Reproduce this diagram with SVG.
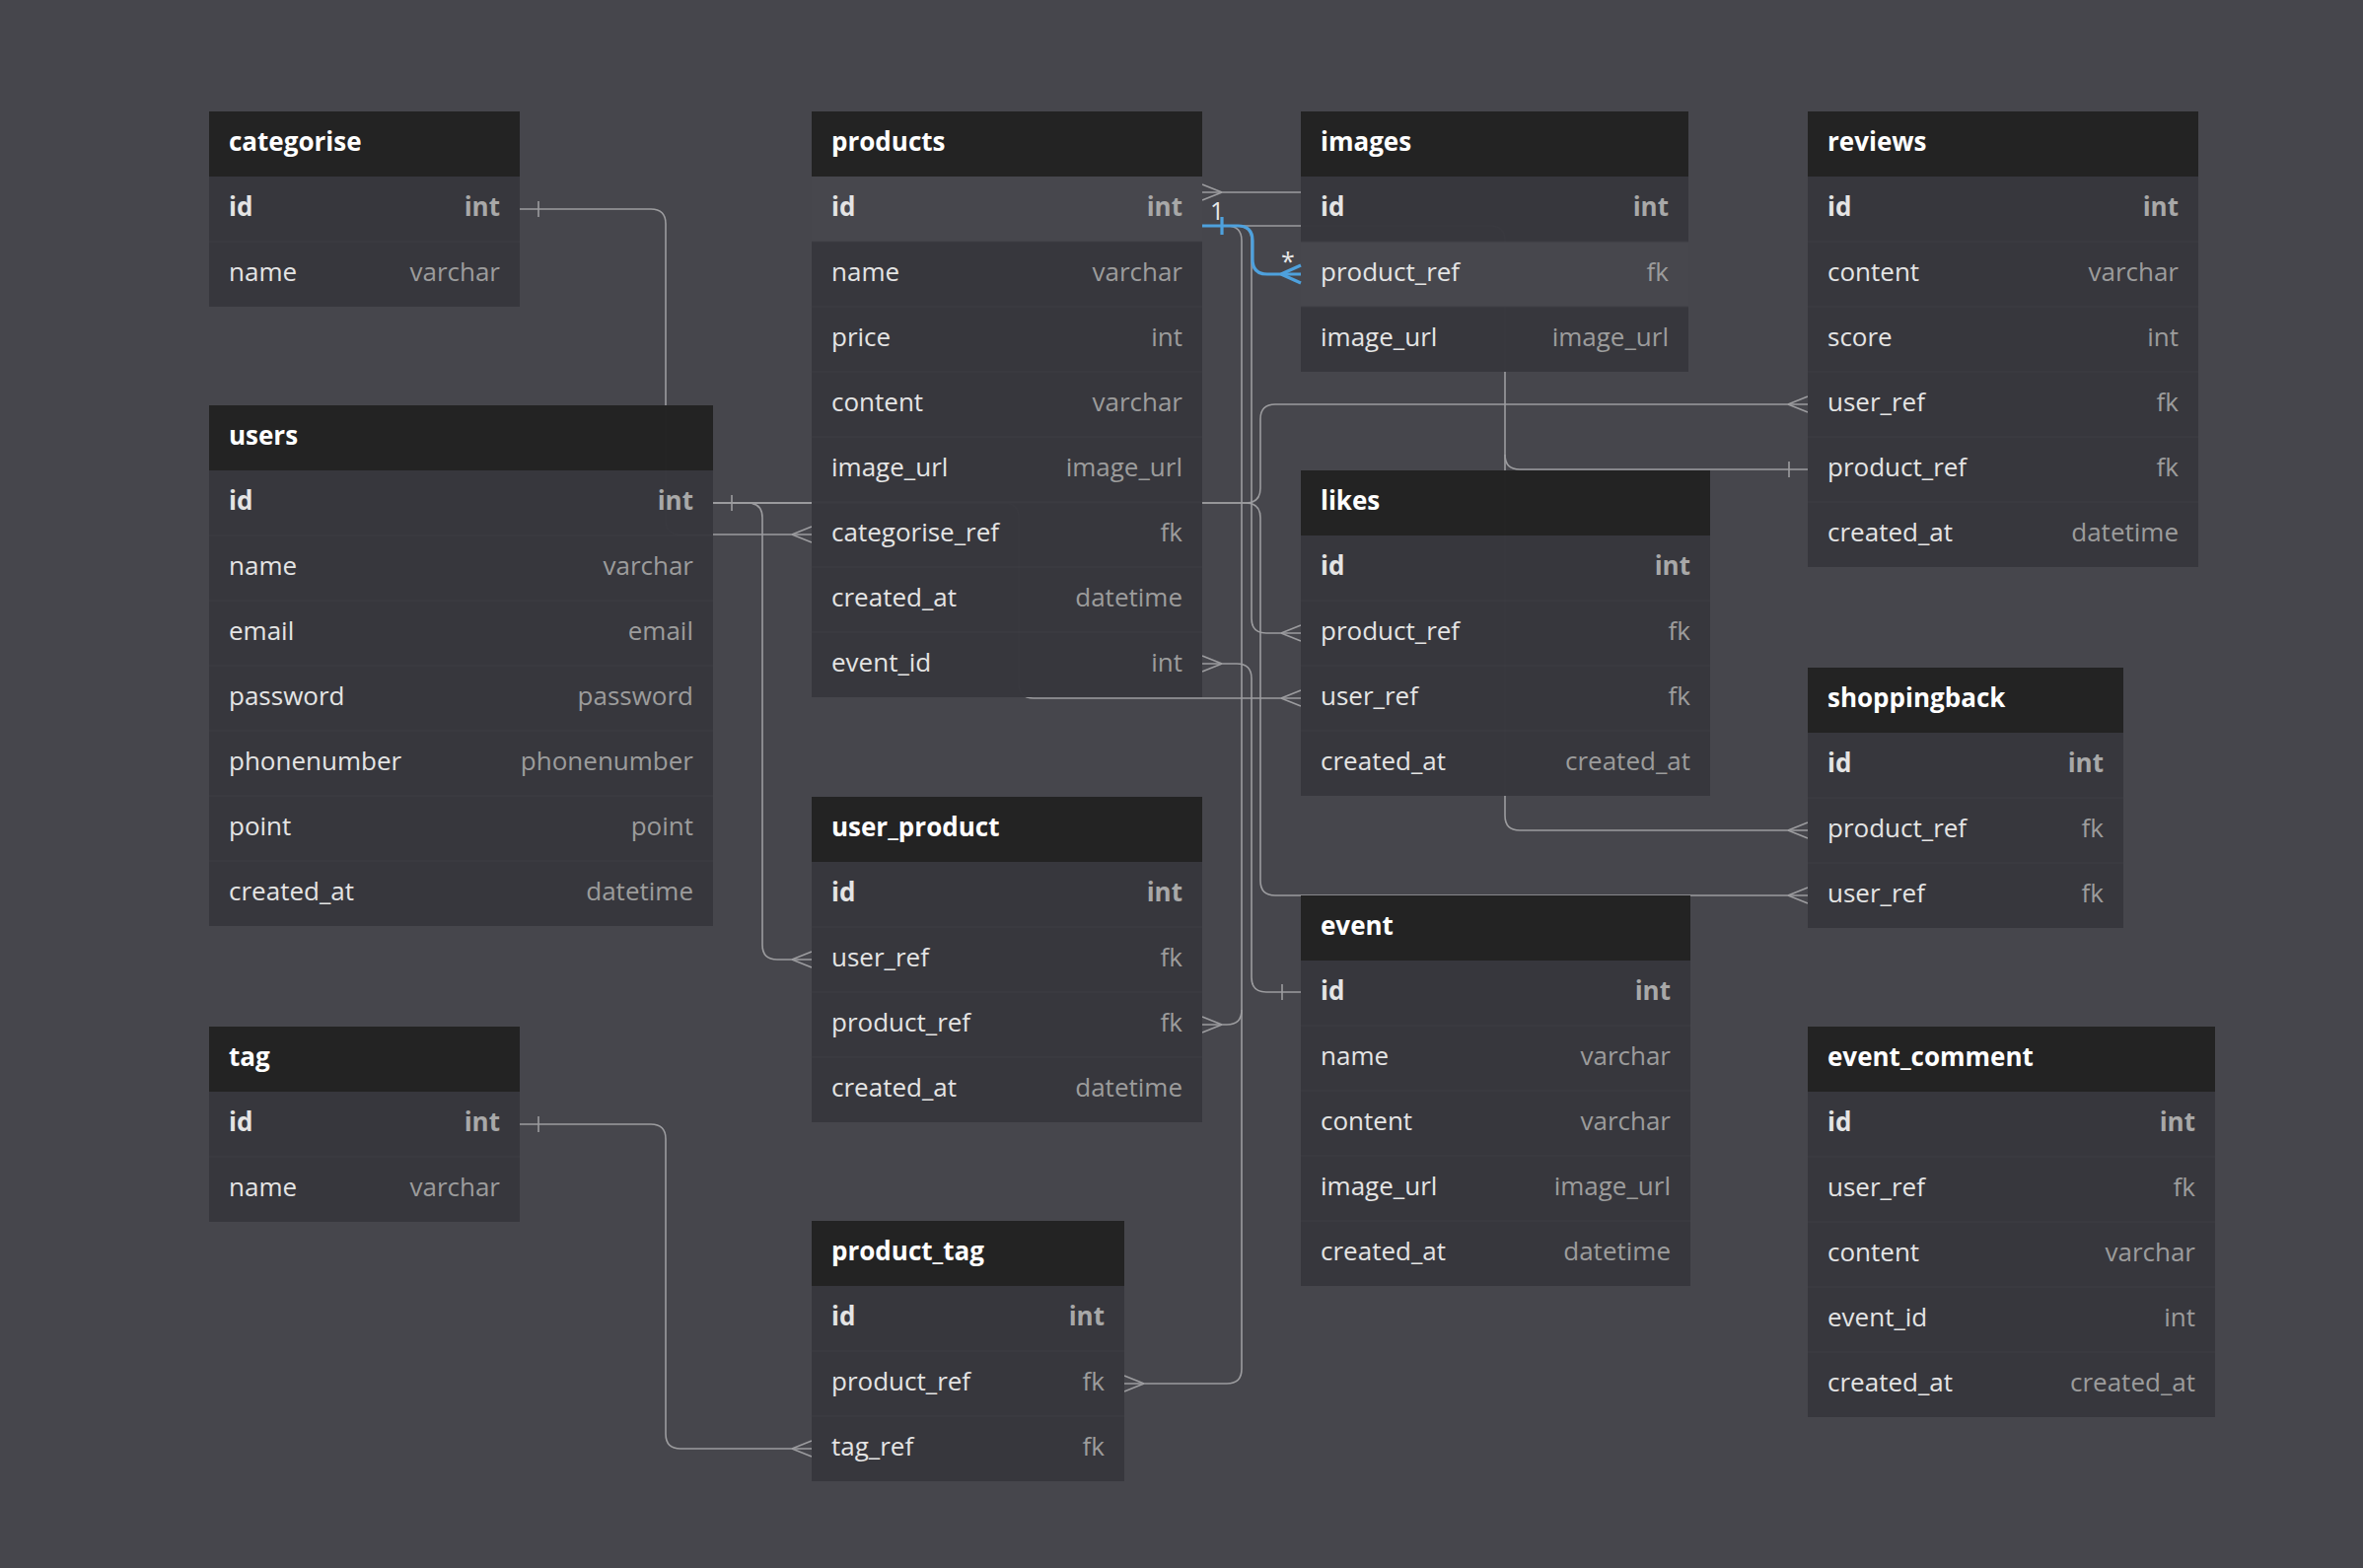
<svg xmlns="http://www.w3.org/2000/svg" width="2396" height="1590" viewBox="0 0 2396 1590">
<defs>
<style>
.bg{fill:#46464c}
.hd{fill:#222222;fill-opacity:.99}
.rw{fill:#37373d;fill-opacity:.985}
.hl{fill:#48484e;fill-opacity:.99}
.sep{stroke:#3f3f45;stroke-width:1}
text{font-family:"Open Sans","Noto Sans",sans-serif;font-size:26px}
.ht{fill:#ffffff;font-weight:700}
.pk{fill:#e4e4e4;font-weight:700}
.pkt{fill:#a8a8a8;font-weight:700;text-anchor:end}
.fn{fill:#e4e4e4}
.ft{fill:#9c9c9c;text-anchor:end}
.c{fill:none;stroke:#9c9c9f;stroke-width:1.6}
.cb{fill:none;stroke:#4ea1dd;stroke-width:3.2}
.lbl{fill:#e8e8e8;font-size:25px}
</style>
<marker id="crow" markerUnits="userSpaceOnUse" viewBox="-22 -10 24 20" refX="0" refY="0" markerWidth="24" markerHeight="20" orient="auto-start-reverse" overflow="visible">
<path d="M-20,0 L0,-8 M-20,0 L0,8" fill="none" stroke="#9c9c9f" stroke-width="1.6"/>
</marker>
<marker id="bar" markerUnits="userSpaceOnUse" viewBox="-22 -10 24 20" refX="0" refY="0" markerWidth="24" markerHeight="20" orient="auto-start-reverse" overflow="visible">
<path d="M-19,-8 V8" fill="none" stroke="#9c9c9f" stroke-width="1.6"/>
</marker>
<marker id="crowB" markerUnits="userSpaceOnUse" viewBox="-22 -10 24 20" refX="0" refY="0" markerWidth="24" markerHeight="20" orient="auto-start-reverse" overflow="visible">
<path d="M-20,0 L0,-9 M-20,0 L0,9" fill="none" stroke="#4ea1dd" stroke-width="3.2"/>
</marker>
<marker id="barB" markerUnits="userSpaceOnUse" viewBox="-22 -10 24 20" refX="0" refY="0" markerWidth="24" markerHeight="20" orient="auto-start-reverse" overflow="visible">
<path d="M-20,-9 V9" fill="none" stroke="#4ea1dd" stroke-width="3.2"/>
</marker>
</defs>
<rect class="bg" x="0" y="0" width="2396" height="1590"/>

<g id="connectors">
<path class="c" d="M527,212 H660 Q675,212 675,227 V527 Q675,542 690,542 H823" marker-start="url(#bar)" marker-end="url(#crow)"/>
<path class="c" d="M723,510 H1018 Q1033,510 1033,525 V693 Q1033,708 1048,708 H1319" marker-start="url(#bar)" marker-end="url(#crow)"/>
<path class="c" d="M723,510 H1263 Q1278,510 1278,495 V425 Q1278,410 1293,410 H1833" marker-end="url(#crow)"/>
<path class="c" d="M723,510 H1263 Q1278,510 1278,525 V893 Q1278,908 1293,908 H1833" marker-end="url(#crow)"/>
<path class="c" d="M723,510 H758 Q773,510 773,525 V958 Q773,973 788,973 H823" marker-end="url(#crow)"/>
<path class="c" d="M1219,229 H1254 Q1269,229 1269,244 V627 Q1269,642 1284,642 H1319" marker-end="url(#crow)"/>
<path class="c" d="M1219,229 H1244 Q1259,229 1259,244 V1388 Q1259,1403 1244,1403 H1140" marker-end="url(#crow)"/>
<path class="c" d="M1219,1039 H1244 Q1259,1039 1259,1024" marker-start="url(#crow)"/>
<path class="c" d="M1219,229 H1511 Q1526,229 1526,244 V461 Q1526,476 1541,476 H1833" marker-end="url(#bar)"/>
<path class="c" d="M1526,461 V827 Q1526,842 1541,842 H1833" marker-end="url(#crow)"/>
<path class="c" d="M1219,195 H1319" marker-start="url(#crow)"/>
<path class="c" d="M1219,673 H1254 Q1269,673 1269,688 V991 Q1269,1006 1284,1006 H1319" marker-start="url(#crow)" marker-end="url(#bar)"/>
<path class="c" d="M527,1140 H660 Q675,1140 675,1155 V1454 Q675,1469 690,1469 H823" marker-start="url(#bar)" marker-end="url(#crow)"/>
</g>

<g id="categorise">
<rect class="hd" x="212" y="113" width="315" height="66"/>
<text class="ht" x="232" y="153">categorise</text>
<rect class="rw" x="212" y="179" width="315" height="132"/>
<line class="sep" x1="212" y1="245" x2="527" y2="245"/>
<text class="pk" x="232" y="219">id</text><text class="pkt" x="507" y="219">int</text>
<text class="fn" x="232" y="285">name</text><text class="ft" x="507" y="285">varchar</text>
</g>

<g id="users">
<rect class="hd" x="212" y="411" width="511" height="66"/>
<text class="ht" x="232" y="451">users</text>
<rect class="rw" x="212" y="477" width="511" height="462"/>
<line class="sep" x1="212" y1="543" x2="723" y2="543"/>
<line class="sep" x1="212" y1="609" x2="723" y2="609"/>
<line class="sep" x1="212" y1="675" x2="723" y2="675"/>
<line class="sep" x1="212" y1="741" x2="723" y2="741"/>
<line class="sep" x1="212" y1="807" x2="723" y2="807"/>
<line class="sep" x1="212" y1="873" x2="723" y2="873"/>
<text class="pk" x="232" y="517">id</text><text class="pkt" x="703" y="517">int</text>
<text class="fn" x="232" y="583">name</text><text class="ft" x="703" y="583">varchar</text>
<text class="fn" x="232" y="649">email</text><text class="ft" x="703" y="649">email</text>
<text class="fn" x="232" y="715">password</text><text class="ft" x="703" y="715">password</text>
<text class="fn" x="232" y="781">phonenumber</text><text class="ft" x="703" y="781">phonenumber</text>
<text class="fn" x="232" y="847">point</text><text class="ft" x="703" y="847">point</text>
<text class="fn" x="232" y="913">created_at</text><text class="ft" x="703" y="913">datetime</text>
</g>

<g id="tag">
<rect class="hd" x="212" y="1041" width="315" height="66"/>
<text class="ht" x="232" y="1081">tag</text>
<rect class="rw" x="212" y="1107" width="315" height="132"/>
<line class="sep" x1="212" y1="1173" x2="527" y2="1173"/>
<text class="pk" x="232" y="1147">id</text><text class="pkt" x="507" y="1147">int</text>
<text class="fn" x="232" y="1213">name</text><text class="ft" x="507" y="1213">varchar</text>
</g>

<g id="products">
<rect class="hd" x="823" y="113" width="396" height="66"/>
<text class="ht" x="843" y="153">products</text>
<rect class="rw" x="823" y="179" width="396" height="528"/>
<rect class="hl" x="823" y="179" width="396" height="66"/>
<line class="sep" x1="823" y1="245" x2="1219" y2="245"/>
<line class="sep" x1="823" y1="311" x2="1219" y2="311"/>
<line class="sep" x1="823" y1="377" x2="1219" y2="377"/>
<line class="sep" x1="823" y1="443" x2="1219" y2="443"/>
<line class="sep" x1="823" y1="509" x2="1219" y2="509"/>
<line class="sep" x1="823" y1="575" x2="1219" y2="575"/>
<line class="sep" x1="823" y1="641" x2="1219" y2="641"/>
<text class="pk" x="843" y="219">id</text><text class="pkt" x="1199" y="219">int</text>
<text class="fn" x="843" y="285">name</text><text class="ft" x="1199" y="285">varchar</text>
<text class="fn" x="843" y="351">price</text><text class="ft" x="1199" y="351">int</text>
<text class="fn" x="843" y="417">content</text><text class="ft" x="1199" y="417">varchar</text>
<text class="fn" x="843" y="483">image_url</text><text class="ft" x="1199" y="483">image_url</text>
<text class="fn" x="843" y="549">categorise_ref</text><text class="ft" x="1199" y="549">fk</text>
<text class="fn" x="843" y="615">created_at</text><text class="ft" x="1199" y="615">datetime</text>
<text class="fn" x="843" y="681">event_id</text><text class="ft" x="1199" y="681">int</text>
</g>

<g id="user_product">
<rect class="hd" x="823" y="808" width="396" height="66"/>
<text class="ht" x="843" y="848">user_product</text>
<rect class="rw" x="823" y="874" width="396" height="264"/>
<line class="sep" x1="823" y1="940" x2="1219" y2="940"/>
<line class="sep" x1="823" y1="1006" x2="1219" y2="1006"/>
<line class="sep" x1="823" y1="1072" x2="1219" y2="1072"/>
<text class="pk" x="843" y="914">id</text><text class="pkt" x="1199" y="914">int</text>
<text class="fn" x="843" y="980">user_ref</text><text class="ft" x="1199" y="980">fk</text>
<text class="fn" x="843" y="1046">product_ref</text><text class="ft" x="1199" y="1046">fk</text>
<text class="fn" x="843" y="1112">created_at</text><text class="ft" x="1199" y="1112">datetime</text>
</g>

<g id="product_tag">
<rect class="hd" x="823" y="1238" width="317" height="66"/>
<text class="ht" x="843" y="1278">product_tag</text>
<rect class="rw" x="823" y="1304" width="317" height="198"/>
<line class="sep" x1="823" y1="1370" x2="1140" y2="1370"/>
<line class="sep" x1="823" y1="1436" x2="1140" y2="1436"/>
<text class="pk" x="843" y="1344">id</text><text class="pkt" x="1120" y="1344">int</text>
<text class="fn" x="843" y="1410">product_ref</text><text class="ft" x="1120" y="1410">fk</text>
<text class="fn" x="843" y="1476">tag_ref</text><text class="ft" x="1120" y="1476">fk</text>
</g>

<g id="images">
<rect class="hd" x="1319" y="113" width="393" height="66"/>
<text class="ht" x="1339" y="153">images</text>
<rect class="rw" x="1319" y="179" width="393" height="198"/>
<rect class="hl" x="1319" y="245" width="393" height="66"/>
<line class="sep" x1="1319" y1="245" x2="1712" y2="245"/>
<line class="sep" x1="1319" y1="311" x2="1712" y2="311"/>
<text class="pk" x="1339" y="219">id</text><text class="pkt" x="1692" y="219">int</text>
<text class="fn" x="1339" y="285">product_ref</text><text class="ft" x="1692" y="285">fk</text>
<text class="fn" x="1339" y="351">image_url</text><text class="ft" x="1692" y="351">image_url</text>
</g>

<g id="likes">
<rect class="hd" x="1319" y="477" width="415" height="66"/>
<text class="ht" x="1339" y="517">likes</text>
<rect class="rw" x="1319" y="543" width="415" height="264"/>
<line class="sep" x1="1319" y1="609" x2="1734" y2="609"/>
<line class="sep" x1="1319" y1="675" x2="1734" y2="675"/>
<line class="sep" x1="1319" y1="741" x2="1734" y2="741"/>
<text class="pk" x="1339" y="583">id</text><text class="pkt" x="1714" y="583">int</text>
<text class="fn" x="1339" y="649">product_ref</text><text class="ft" x="1714" y="649">fk</text>
<text class="fn" x="1339" y="715">user_ref</text><text class="ft" x="1714" y="715">fk</text>
<text class="fn" x="1339" y="781">created_at</text><text class="ft" x="1714" y="781">created_at</text>
</g>

<g id="event">
<rect class="hd" x="1319" y="908" width="395" height="66"/>
<text class="ht" x="1339" y="948">event</text>
<rect class="rw" x="1319" y="974" width="395" height="330"/>
<line class="sep" x1="1319" y1="1040" x2="1714" y2="1040"/>
<line class="sep" x1="1319" y1="1106" x2="1714" y2="1106"/>
<line class="sep" x1="1319" y1="1172" x2="1714" y2="1172"/>
<line class="sep" x1="1319" y1="1238" x2="1714" y2="1238"/>
<text class="pk" x="1339" y="1014">id</text><text class="pkt" x="1694" y="1014">int</text>
<text class="fn" x="1339" y="1080">name</text><text class="ft" x="1694" y="1080">varchar</text>
<text class="fn" x="1339" y="1146">content</text><text class="ft" x="1694" y="1146">varchar</text>
<text class="fn" x="1339" y="1212">image_url</text><text class="ft" x="1694" y="1212">image_url</text>
<text class="fn" x="1339" y="1278">created_at</text><text class="ft" x="1694" y="1278">datetime</text>
</g>

<g id="reviews">
<rect class="hd" x="1833" y="113" width="396" height="66"/>
<text class="ht" x="1853" y="153">reviews</text>
<rect class="rw" x="1833" y="179" width="396" height="396"/>
<line class="sep" x1="1833" y1="245" x2="2229" y2="245"/>
<line class="sep" x1="1833" y1="311" x2="2229" y2="311"/>
<line class="sep" x1="1833" y1="377" x2="2229" y2="377"/>
<line class="sep" x1="1833" y1="443" x2="2229" y2="443"/>
<line class="sep" x1="1833" y1="509" x2="2229" y2="509"/>
<text class="pk" x="1853" y="219">id</text><text class="pkt" x="2209" y="219">int</text>
<text class="fn" x="1853" y="285">content</text><text class="ft" x="2209" y="285">varchar</text>
<text class="fn" x="1853" y="351">score</text><text class="ft" x="2209" y="351">int</text>
<text class="fn" x="1853" y="417">user_ref</text><text class="ft" x="2209" y="417">fk</text>
<text class="fn" x="1853" y="483">product_ref</text><text class="ft" x="2209" y="483">fk</text>
<text class="fn" x="1853" y="549">created_at</text><text class="ft" x="2209" y="549">datetime</text>
</g>

<g id="shoppingback">
<rect class="hd" x="1833" y="677" width="320" height="66"/>
<text class="ht" x="1853" y="717">shoppingback</text>
<rect class="rw" x="1833" y="743" width="320" height="198"/>
<line class="sep" x1="1833" y1="809" x2="2153" y2="809"/>
<line class="sep" x1="1833" y1="875" x2="2153" y2="875"/>
<text class="pk" x="1853" y="783">id</text><text class="pkt" x="2133" y="783">int</text>
<text class="fn" x="1853" y="849">product_ref</text><text class="ft" x="2133" y="849">fk</text>
<text class="fn" x="1853" y="915">user_ref</text><text class="ft" x="2133" y="915">fk</text>
</g>

<g id="event_comment">
<rect class="hd" x="1833" y="1041" width="413" height="66"/>
<text class="ht" x="1853" y="1081">event_comment</text>
<rect class="rw" x="1833" y="1107" width="413" height="330"/>
<line class="sep" x1="1833" y1="1173" x2="2246" y2="1173"/>
<line class="sep" x1="1833" y1="1239" x2="2246" y2="1239"/>
<line class="sep" x1="1833" y1="1305" x2="2246" y2="1305"/>
<line class="sep" x1="1833" y1="1371" x2="2246" y2="1371"/>
<text class="pk" x="1853" y="1147">id</text><text class="pkt" x="2226" y="1147">int</text>
<text class="fn" x="1853" y="1213">user_ref</text><text class="ft" x="2226" y="1213">fk</text>
<text class="fn" x="1853" y="1279">content</text><text class="ft" x="2226" y="1279">varchar</text>
<text class="fn" x="1853" y="1345">event_id</text><text class="ft" x="2226" y="1345">int</text>
<text class="fn" x="1853" y="1411">created_at</text><text class="ft" x="2226" y="1411">created_at</text>
</g>

<g id="highlighted-connector">
<path class="cb" d="M1219,229 H1255 Q1270,229 1270,244 V263 Q1270,278 1285,278 H1319" marker-start="url(#barB)" marker-end="url(#crowB)"/>
<text class="lbl" x="1227" y="223">1</text>
<text class="lbl" x="1299" y="274">*</text>
</g>
</svg>
